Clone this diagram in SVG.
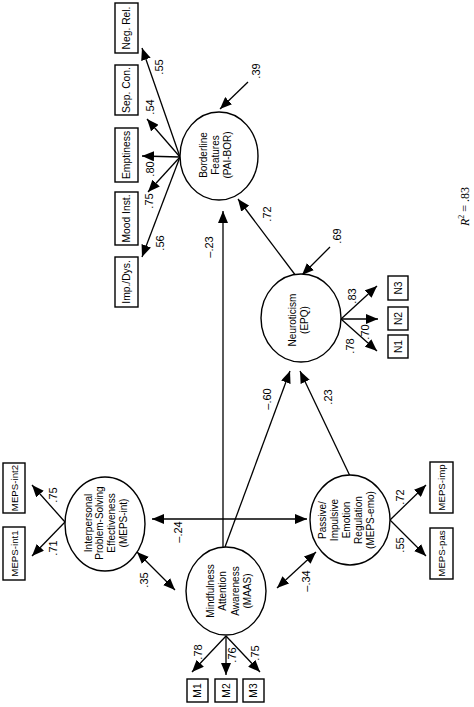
<svg xmlns="http://www.w3.org/2000/svg" width="474" height="707" viewBox="0 0 474 707">
<style>
  .bg{fill:#ffffff}
  .lat{fill:#ffffff;stroke:#000;stroke-width:1.4}
  .box{fill:#ffffff;stroke:#000;stroke-width:1.4}
  .nt{font-family:"Liberation Sans",Arial,sans-serif;font-size:10px;fill:#000;text-anchor:middle}
  .bt{font-family:"Liberation Sans",Arial,sans-serif;font-size:10.3px;fill:#000;text-anchor:middle}
  .bs{font-family:"Liberation Sans",Arial,sans-serif;font-size:9.7px;fill:#000;text-anchor:middle}
  .lb{font-family:"Liberation Sans",Arial,sans-serif;font-size:11px;fill:#000;text-anchor:middle}
  .r2{font-family:"Liberation Serif","Times New Roman",serif;font-size:12px;fill:#000}
  .c{stroke:#000;stroke-width:1.3;fill:none}
  .a{marker-end:url(#ah)}
  .d{marker-start:url(#ah);marker-end:url(#ah)}
</style>
<defs>
  <marker id="ah" markerUnits="userSpaceOnUse" markerWidth="12" markerHeight="10" refX="12" refY="5" orient="auto-start-reverse">
    <path d="M0,0 L12,5 L0,10 z" fill="#000"/>
  </marker>
</defs>
<rect class="bg" x="0" y="0" width="474" height="707"/>

<g id="connectors">
  <line class="c a" x1="180" y1="157" x2="142" y2="48"/>
  <line class="c a" x1="180" y1="157" x2="147" y2="119"/>
  <line class="c a" x1="180" y1="157" x2="142" y2="156"/>
  <line class="c a" x1="180" y1="157" x2="148" y2="192"/>
  <line class="c a" x1="180" y1="157" x2="142" y2="257"/>
  <line class="c a" x1="248" y1="82" x2="220" y2="109"/>
  <line class="c a" x1="223" y1="547" x2="223" y2="211"/>
  <line class="c a" x1="296" y1="276" x2="238" y2="199"/>
  <line class="c a" x1="330" y1="247" x2="302" y2="275"/>
  <line class="c a" x1="341" y1="319" x2="377" y2="286"/>
  <line class="c a" x1="341" y1="319" x2="378" y2="319"/>
  <line class="c a" x1="341" y1="319" x2="377" y2="351"/>
  <line class="c a" x1="225" y1="547" x2="290" y2="371"/>
  <line class="c a" x1="350" y1="476" x2="300" y2="371"/>
  <line class="c d" x1="152" y1="519" x2="307" y2="519"/>
  <line class="c d" x1="137" y1="552" x2="175" y2="590"/>
  <line class="c d" x1="277" y1="588" x2="316" y2="552"/>
  <line class="c a" x1="390" y1="520" x2="426" y2="485"/>
  <line class="c a" x1="390" y1="520" x2="426" y2="556"/>
  <line class="c a" x1="65" y1="522" x2="32" y2="485"/>
  <line class="c a" x1="65" y1="522" x2="32" y2="556"/>
  <line class="c a" x1="226" y1="636" x2="192" y2="672"/>
  <line class="c a" x1="226" y1="636" x2="226" y2="675"/>
  <line class="c a" x1="226" y1="636" x2="260" y2="672"/>
</g>

<g id="labels">
  <text class="lb" transform="translate(159,67) rotate(-90)" y="4">.55</text>
  <text class="lb" transform="translate(150,107) rotate(-90)" y="4">.54</text>
  <text class="lb" transform="translate(150,169) rotate(-90)" y="4">.80</text>
  <text class="lb" transform="translate(149,201) rotate(-90)" y="4">.75</text>
  <text class="lb" transform="translate(160,243) rotate(-90)" y="4">.56</text>
  <text class="lb" transform="translate(256,71) rotate(-90)" y="4">.39</text>
  <text class="lb" transform="translate(209,247) rotate(-90)" y="4">–.23</text>
  <text class="lb" transform="translate(267,214) rotate(-90)" y="4">.72</text>
  <text class="lb" transform="translate(337,236) rotate(-90)" y="4">.69</text>
  <text class="lb" transform="translate(352,296) rotate(-90)" y="4">.83</text>
  <text class="lb" transform="translate(365,332) rotate(-90)" y="4">.70</text>
  <text class="lb" transform="translate(350,346) rotate(-90)" y="4">.78</text>
  <text class="lb" transform="translate(267,399) rotate(-90)" y="4">–.60</text>
  <text class="lb" transform="translate(328,397) rotate(-90)" y="4">.23</text>
  <text class="lb" transform="translate(178,532) rotate(-90)" y="4">–.24</text>
  <text class="lb" transform="translate(144,580) rotate(-90)" y="4">.35</text>
  <text class="lb" transform="translate(306,581) rotate(-90)" y="4">–.34</text>
  <text class="lb" transform="translate(400,497) rotate(-90)" y="4">.72</text>
  <text class="lb" transform="translate(400,545) rotate(-90)" y="4">.55</text>
  <text class="lb" transform="translate(53,495) rotate(-90)" y="4">.75</text>
  <text class="lb" transform="translate(53,548) rotate(-90)" y="4">.71</text>
  <text class="lb" transform="translate(198,652) rotate(-90)" y="4">.78</text>
  <text class="lb" transform="translate(232,655) rotate(-90)" y="4">.76</text>
  <text class="lb" transform="translate(255,653) rotate(-90)" y="4">.75</text>
  <text class="r2" transform="translate(469,226) rotate(-90)"><tspan font-style="italic">R</tspan><tspan font-size="8" dy="-5">2</tspan><tspan dy="5"> = .83</tspan></text>
</g>

<g id="borderline">
  <ellipse class="lat" cx="219" cy="156" rx="39" ry="44"/>
  <text class="nt" transform="translate(215,155) rotate(-90)"><tspan x="0" y="-8.5">Borderline</tspan><tspan x="0" y="3.5">Features</tspan><tspan x="0" y="15.5">(PAI-BOR)</tspan></text>
</g>
<g id="neuroticism">
  <ellipse class="lat" cx="301" cy="318" rx="40" ry="44"/>
  <text class="nt" transform="translate(298,320) rotate(-90)"><tspan x="0" y="-2.5">Neuroticism</tspan><tspan x="0" y="9.5">(EPQ)</tspan></text>
</g>
<g id="meps-int">
  <ellipse class="lat" cx="105" cy="524" rx="40" ry="47"/>
  <text class="nt" transform="translate(105.5,523) rotate(-90)"><tspan x="0" y="-14">Interpersonal</tspan><tspan x="0" y="-2.3">Problem-Solving</tspan><tspan x="0" y="9.3">Effectiveness</tspan><tspan x="0" y="21">(MEPS-int)</tspan></text>
</g>
<g id="maas">
  <ellipse class="lat" cx="226" cy="591" rx="40" ry="44"/>
  <text class="nt" transform="translate(229,591) rotate(-90)"><tspan x="0" y="-15">Mindfulness</tspan><tspan x="0" y="-2.7">Attention</tspan><tspan x="0" y="9.7">Awareness</tspan><tspan x="0" y="22">(MAAS)</tspan></text>
</g>
<g id="meps-emo">
  <ellipse class="lat" cx="350" cy="520" rx="40" ry="45"/>
  <text class="nt" transform="translate(346,520) rotate(-90)"><tspan x="0" y="-20.5">Passive/</tspan><tspan x="0" y="-8.5">Impulsive</tspan><tspan x="0" y="3.5">Emotion</tspan><tspan x="0" y="15.5">Regulation</tspan><tspan x="0" y="27.5">(MEPS-emo)</tspan></text>
</g>

<g id="neg-rel"><rect class="box" x="115" y="3" width="23" height="50"/><text class="bt" transform="translate(126.5,28) rotate(-90)" y="3.7">Neg. Rel.</text></g>
<g id="sep-con"><rect class="box" x="115" y="65" width="23" height="50"/><text class="bt" transform="translate(126.5,90) rotate(-90)" y="3.7">Sep. Con.</text></g>
<g id="emptiness"><rect class="box" x="115" y="128" width="23" height="54"/><text class="bt" transform="translate(126.5,155) rotate(-90)" y="3.7">Emptiness</text></g>
<g id="mood-inst"><rect class="box" x="115" y="192" width="23" height="53"/><text class="bt" transform="translate(126.5,218.5) rotate(-90)" y="3.7">Mood Inst.</text></g>
<g id="imp-dys"><rect class="box" x="115" y="257" width="23" height="50"/><text class="bt" transform="translate(126.5,282) rotate(-90)" y="3.7">Imp./Dys.</text></g>

<g id="n3"><rect class="box" x="388" y="276" width="20" height="24"/><text class="bt" transform="translate(398,288) rotate(-90)" y="3.7">N3</text></g>
<g id="n2"><rect class="box" x="388" y="307" width="20" height="23"/><text class="bt" transform="translate(398,318.5) rotate(-90)" y="3.7">N2</text></g>
<g id="n1"><rect class="box" x="388" y="335" width="20" height="23"/><text class="bt" transform="translate(398,346.5) rotate(-90)" y="3.7">N1</text></g>

<g id="meps-int2"><rect class="box" x="3" y="463" width="22" height="50"/><text class="bs" transform="translate(14,488) rotate(-90)" y="3.5">MEPS-int2</text></g>
<g id="meps-int1"><rect class="box" x="3" y="527" width="22" height="53"/><text class="bs" transform="translate(14,553.5) rotate(-90)" y="3.5">MEPS-int1</text></g>

<g id="meps-imp"><rect class="box" x="430" y="462" width="23" height="51"/><text class="bs" transform="translate(441.5,487.5) rotate(-90)" y="3.5">MEPS-imp</text></g>
<g id="meps-pas"><rect class="box" x="430" y="528" width="23" height="51"/><text class="bs" transform="translate(441.5,553.5) rotate(-90)" y="3.5">MEPS-pas</text></g>

<g id="m1"><rect class="box" x="187" y="679" width="21" height="23"/><text class="bt" transform="translate(197.5,690.5) rotate(-90)" y="3.7">M1</text></g>
<g id="m2"><rect class="box" x="215" y="679" width="22" height="23"/><text class="bt" transform="translate(226,690.5) rotate(-90)" y="3.7">M2</text></g>
<g id="m3"><rect class="box" x="243" y="679" width="21" height="23"/><text class="bt" transform="translate(253.5,690.5) rotate(-90)" y="3.7">M3</text></g>
</svg>
